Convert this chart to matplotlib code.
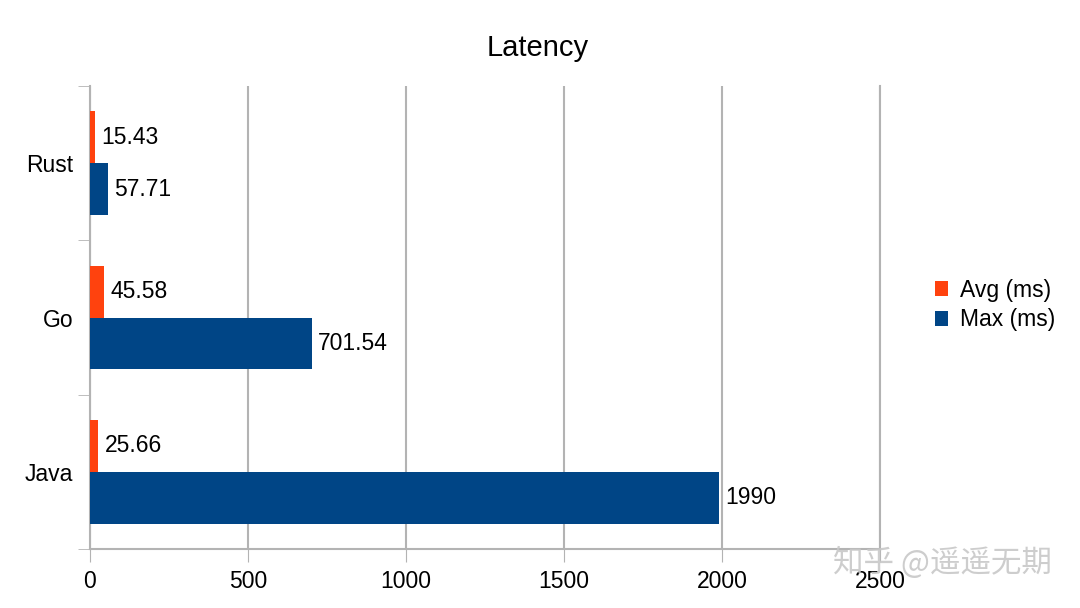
import matplotlib
matplotlib.use("Agg")
import matplotlib.pyplot as plt
import numpy as np

categories = ["Java", "Go", "Rust"]
avg_ms = [25.66, 45.58, 15.43]
max_ms = [1990, 701.54, 57.71]
avg_labels = ["25.66", "45.58", "15.43"]
max_labels = ["1990", "701.54", "57.71"]

plt.rcParams['font.family'] = ['Liberation Sans', 'DejaVu Sans']
fig = plt.figure(figsize=(10.8, 6.08), dpi=100)
ax = fig.add_axes([90/1080, 1-549/608, 790/1080, 463/608])
y = np.arange(len(categories))
h = 0.335
ax.barh(y + h/2, avg_ms, height=h, color="#FF420E", label="Avg (ms)", zorder=3)
ax.barh(y - h/2, max_ms, height=h, color="#004586", label="Max (ms)", zorder=3)
fs = 16.5
for yi, v, t in zip(y, avg_ms, avg_labels):
    ax.text(v + 20, yi + h/2, t, va="center", ha="left", fontsize=fs)
for yi, v, t in zip(y, max_ms, max_labels):
    ax.text(v + 20, yi - h/2, t, va="center", ha="left", fontsize=fs)
ax.set_xlim(0, 2500)
ax.set_ylim(-0.5, 2.5)
ax.set_xticks([0, 500, 1000, 1500, 2000, 2500])
ax.set_yticks(y)
ax.set_yticklabels(categories)
ax.set_yticks([-0.5, 0.5, 1.5, 2.5], minor=True)
ax.tick_params(axis="y", which="major", length=0, labelsize=fs, pad=12)
ax.tick_params(axis="y", which="minor", length=9, color="#b3b3b3", direction="out")
ax.tick_params(axis="x", length=9, color="#b3b3b3", labelsize=fs, direction="out", pad=6)
ax.grid(axis="x", color="#b3b3b3", linewidth=1.5, zorder=0)
ax.spines["top"].set_visible(False)
for s in ["left", "bottom", "right"]:
    ax.spines[s].set_color("#b3b3b3")
    ax.spines[s].set_linewidth(1.5)
fig.text(538/1080, 1-48/608, "Latency", fontsize=21, ha="center", va="center")
fig.legend(loc="center left", bbox_to_anchor=(914/1080, 1-305/608), frameon=False,
           fontsize=fs, handlelength=0.6, handleheight=0.6, handletextpad=0.5, labelspacing=0.3)
fig.text(1052/1080, 1-563/608, "知乎 @遥遥无期", ha="right", va="center", fontsize=22,
         color="#c8c8c8", family=["Noto Sans CJK SC", "DejaVu Sans"], alpha=0.9)
fig.savefig("out.png", dpi=100)
